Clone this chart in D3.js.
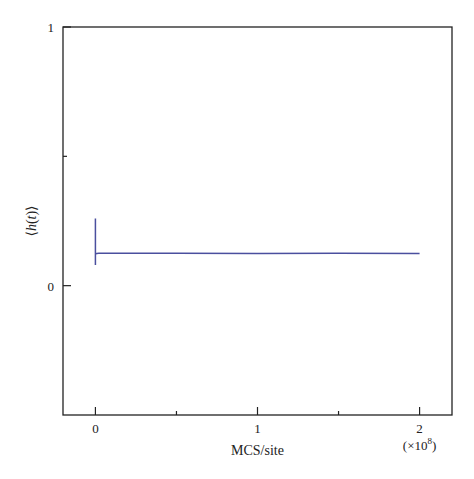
<!DOCTYPE html>
<html lang="en">
<head>
<meta charset="UTF-8"/>
<script src="https://d3js.org/d3.v7.min.js"></script>
<style>
body { margin:0; background:#fff; }
text { font-family: "Liberation Serif", "DejaVu Serif", serif; fill:#222; }
</style>
</head>
<body>
<script>
// data (x in units of 1e8 MCS/site)
var xs = [0, 0, 0, 0.005, 0.01, 0.02, 0.5, 1.0, 1.5, 2.0];
var hs = [0.26, 0.08, 0.12, 0.125, 0.124, 0.125, 0.125, 0.124, 0.125, 0.124];
var xTicks = [0, 1, 2];
var xMinor = [0.5, 1.5];
var yTicks = [0, 1];
var yMinor = [0.5];

var w = 474, h = 479;
var padL = 63, padR = 452, padT = 27, padB = 415;

var xScale = d3.scaleLinear().domain([-0.2, 2.2]).range([padL, padR]);
var yScale = d3.scaleLinear().domain([-0.5, 1]).range([padB, padT]);

var svg = d3.select("body").append("svg").attr("width", w).attr("height", h);

svg.append("rect").attr("x", padL).attr("y", padT)
	.attr("width", padR - padL).attr("height", padB - padT)
	.attr("fill", "none").attr("stroke", "#222").attr("stroke-width", 1.3);

// x ticks (inward)
svg.selectAll(".xt").data(xTicks).enter().append("line")
	.attr("x1", d => xScale(d)).attr("x2", d => xScale(d))
	.attr("y1", padB).attr("y2", padB - 8)
	.attr("stroke", "#222").attr("stroke-width", 1.2);
svg.selectAll(".xm").data(xMinor).enter().append("line")
	.attr("x1", d => xScale(d)).attr("x2", d => xScale(d))
	.attr("y1", padB).attr("y2", padB - 4)
	.attr("stroke", "#222").attr("stroke-width", 1.2);
svg.selectAll(".xl").data(xTicks).enter().append("text")
	.attr("x", d => xScale(d)).attr("y", padB + 18)
	.attr("text-anchor", "middle").attr("font-size", 13).text(d => d);

// y ticks (inward)
svg.selectAll(".yt").data(yTicks).enter().append("line")
	.attr("x1", padL).attr("x2", padL + 8)
	.attr("y1", d => yScale(d)).attr("y2", d => yScale(d))
	.attr("stroke", "#222").attr("stroke-width", 1.2);
svg.selectAll(".ym").data(yMinor).enter().append("line")
	.attr("x1", padL).attr("x2", padL + 4)
	.attr("y1", d => yScale(d)).attr("y2", d => yScale(d))
	.attr("stroke", "#222").attr("stroke-width", 1.2);
svg.selectAll(".yl").data(yTicks).enter().append("text")
	.attr("x", padL - 9).attr("y", d => yScale(d) + 5)
	.attr("text-anchor", "end").attr("font-size", 13).text(d => d);

// the series
var line = d3.line().x(d => xScale(d)).y((d, i) => yScale(hs[i]));
svg.append("path").datum(xs).attr("d", line)
	.attr("fill", "none").attr("stroke", "#4a4f9e").attr("stroke-width", 1.5);

// labels
svg.append("text").attr("x", xScale(1)).attr("y", 455)
	.attr("text-anchor", "middle").attr("font-size", 14).text("MCS/site");
var mult = svg.append("text").attr("x", xScale(2)).attr("y", 450)
	.attr("text-anchor", "middle").attr("font-size", 13);
mult.append("tspan").text("(×10");
mult.append("tspan").attr("dy", -6).attr("font-size", 9).text("8");
mult.append("tspan").attr("dy", 6).text(")");

var yl = svg.append("text").attr("transform", "translate(36," + yScale(0.25) + ") rotate(-90)")
	.attr("text-anchor", "middle").attr("font-size", 14);
yl.append("tspan").text("⟨");
yl.append("tspan").attr("font-style", "italic").text("h");
yl.append("tspan").text("(");
yl.append("tspan").attr("font-style", "italic").text("t");
yl.append("tspan").text(")⟩");
</script>
</body>
</html>
